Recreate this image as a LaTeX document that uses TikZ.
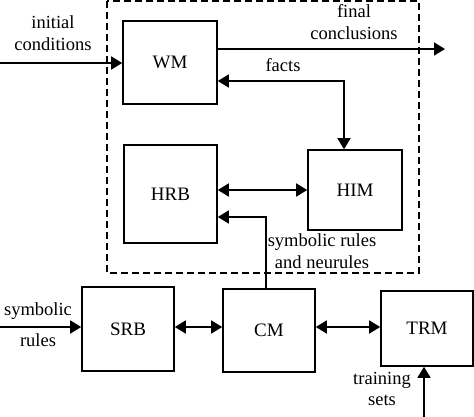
\documentclass[tikz,border=0pt]{standalone}
\usepackage{fontspec}
\setmainfont{Liberation Serif}
\usetikzlibrary{arrows.meta,positioning}

\tikzset{
  block/.style={draw, line width=1.6pt, inner sep=0pt, font=\fontsize{19}{22}\selectfont},
  lbl/.style={align=center, inner sep=0pt, font=\fontsize{18.5}{21.5}\selectfont},
  arr/.style={line width=1.6pt, -{Triangle[length=11pt,width=13pt]}},
  darr/.style={line width=1.6pt, {Triangle[length=11pt,width=13pt]}-{Triangle[length=11pt,width=13pt]}}
}

\begin{document}
\begin{tikzpicture}[x=1pt,y=-1pt]
  \useasboundingbox (0,0) rectangle (474,417);
  \draw[line width=1.6pt, dash pattern=on 7pt off 4pt] (107,1) rectangle (419,273);

  \node [block, minimum width=94pt, minimum height=83pt] (WM) at (170,62.5) {WM};
  \node [block, minimum width=93pt, minimum height=98pt] (HRB) at (170.5,194) {HRB};
  \node [block, minimum width=94pt, minimum height=80pt] (HIM) at (355,190) {HIM};
  \node [block, minimum width=92pt, minimum height=84pt] (SRB) at (128,329) {SRB};
  \node [block, minimum width=92pt, minimum height=83pt] (CM) at (269,330.5) {CM};
  \node [block, minimum width=92pt, minimum height=75pt] (TRM) at (427,328.5) {TRM};

  \coordinate (in_ic) at (0,63);
  \coordinate (out_fc) at (445,49);
  \coordinate (in_sr) at (0,327);
  \coordinate (in_ts) at (424,417);

  \draw[arr] (in_ic) -- (in_ic -| WM.west);
  \draw[arr] (WM.east |- out_fc) -- (out_fc);
  \draw[darr] (WM.east |- 0,81) -| (HIM.north -| 344,0);
  \draw[darr] (HRB.east |- HIM.west) -- (HIM.west);
  \draw[arr] (CM.north -| 266,0) |- (HRB.east |- 0,217);
  \draw[arr] (in_sr) -- (in_sr -| SRB.west);
  \draw[darr] (SRB.east |- in_sr) -- (CM.west |- in_sr);
  \draw[darr] (CM.east |- in_sr) -- (TRM.west |- in_sr);
  \draw[arr] (in_ts) -- (in_ts |- TRM.south);

  \node [lbl] (l_ic) at (53,33) {initial\\conditions};
  \node [lbl] (l_fc) at (354,22) {final\\conclusions};
  \node [lbl] (l_facts) at (283,65) {facts};
  \node [lbl] (l_sr) at (322,251) {symbolic rules\\and neurules};
  \node [lbl] (l_sym) at (38,311) {symbolic};
  \node [lbl] (l_rules) at (38,340) {rules};
  \node [lbl] (l_ts) at (382,389) {training\\sets};
\end{tikzpicture}
\end{document}
